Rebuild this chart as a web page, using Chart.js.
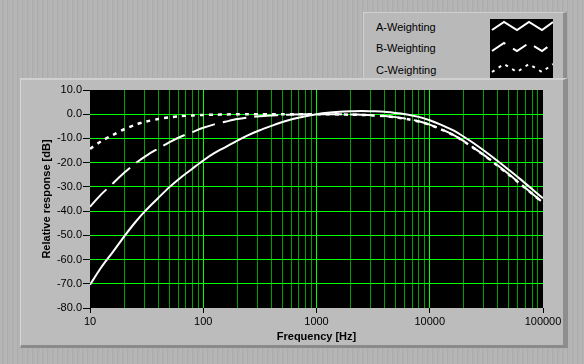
<!DOCTYPE html>
<html>
<head>
<meta charset="utf-8">
<script src="https://cdn.jsdelivr.net/npm/chart.js@4"></script>
<style>
  body { margin: 0; }
  #frame {
    position: relative; width: 584px; height: 364px; overflow: hidden;
    background: repeating-linear-gradient(90deg, #b6b6b6 0 2px, #acacac 2px 3px, #b3b3b3 3px 5px);
    font-family: "Liberation Sans", Arial, sans-serif;
  }
  #panel {
    position: absolute; left: 20px; top: 78px; width: 548px; height: 270px;
    box-sizing: border-box; background: #bcbcbc;
    border-left: 1px solid #d6d6d6; border-top: 2px solid #d0d0d0;
    border-right: 5px solid #8e8e8e; border-bottom: 3px solid #8a8a8a;
  }
  #legend {
    position: absolute; left: 363px; top: 12px; width: 204px; height: 66px;
    box-sizing: border-box; background: #b9b9b9;
    border-left: 1px solid #d0d0d0; border-top: 1px solid #d0d0d0;
    border-right: 4px solid #8e8e8e;
  }
  .lbl { position: absolute; left: 12px; font-size: 11px; color: #000; line-height: 13px; }
  #swatch { position: absolute; left: 126px; top: 6px; }
  #chart { position: absolute; left: 0; top: 0; }
</style>
</head>
<body>
<div id="frame">
  <div id="panel"></div>
  <div id="legend">
    <div class="lbl" style="top:8px">A-Weighting</div>
    <div class="lbl" style="top:29px">B-Weighting</div>
    <div class="lbl" style="top:51px">C-Weighting</div>
    <canvas id="swatch" width="63" height="59"></canvas>
  </div>
  <canvas id="chart" width="584" height="364"></canvas>
</div>
<script>
// frequencies [Hz]
const freqs = [10, 12.5, 16, 20, 25, 31.5, 40, 50, 63, 80, 100, 125, 160, 200, 250, 315, 400, 500, 630, 800,
  1000, 1250, 1600, 2000, 2500, 3150, 4000, 5000, 6300, 8000, 10000, 12500, 16000, 20000,
  25000, 31500, 40000, 50000, 63000, 80000, 100000];

// relative response [dB]
const aWeight = [-70.4, -63.4, -56.7, -50.5, -44.7, -39.4, -34.6, -30.2, -26.2, -22.5, -19.1, -16.1, -13.4, -10.9, -8.6, -6.6, -4.8, -3.2, -1.9, -0.8,
  0, 0.6, 1.0, 1.2, 1.3, 1.2, 1.0, 0.5, -0.1, -1.1, -2.5, -4.3, -6.6, -9.3,
  -12.3, -15.7, -19.4, -23.0, -26.8, -30.9, -34.7];
const bWeight = [-38.2, -33.2, -28.5, -24.2, -20.4, -17.1, -14.2, -11.6, -9.3, -7.4, -5.6, -4.2, -3.0, -2.0, -1.3, -0.8, -0.5, -0.3, -0.1, 0,
  0, 0, 0, -0.1, -0.2, -0.4, -0.7, -1.2, -1.9, -2.9, -4.3, -6.1, -8.4, -11.1,
  -14.2, -17.5, -21.2, -24.8, -28.7, -32.7, -36.5];
const cWeight = [-14.3, -11.2, -8.5, -6.2, -4.4, -3.0, -2.0, -1.3, -0.8, -0.5, -0.3, -0.2, -0.1, 0, 0, 0, 0, 0, 0, 0,
  0, 0, -0.1, -0.2, -0.3, -0.5, -0.8, -1.3, -2.0, -3.0, -4.4, -6.2, -8.5, -11.2,
  -14.3, -17.6, -21.4, -25.0, -28.8, -32.8, -36.6];

const seriesNames = ["A-Weighting", "B-Weighting", "C-Weighting"];
const xTickLabels = [10, 100, 1000, 10000, 100000];
const minorSteps = [2, 3, 4, 5, 6, 7, 8, 9];
const yMin = -80, yMax = 10, yStep = 10;

const isDecade = (v) => xTickLabels.includes(v);
const gridFreqs = [];
xTickLabels.forEach((d, i) => {
  gridFreqs.push(d);
  if (i < xTickLabels.length - 1) minorSteps.forEach((m) => gridFreqs.push(d * m));
});

function points(vals) {
  return freqs.map((f, i) => ({ x: f, y: vals[i] }));
}

const plotBg = {
  id: "plotBg",
  beforeDraw(chart) {
    const a = chart.chartArea;
    const ctx = chart.ctx;
    ctx.save();
    ctx.fillStyle = "#000";
    ctx.fillRect(a.left, a.top, a.right - a.left, a.bottom - a.top);
    ctx.restore();
  },
};

const font = { family: "'Liberation Sans', Arial, sans-serif", size: 11 };
const boldFont = { family: "'Liberation Sans', Arial, sans-serif", size: 11, weight: "bold" };

new Chart(document.getElementById("chart"), {
  type: "line",
  data: {
    datasets: [
      { label: seriesNames[0], data: points(aWeight), borderColor: "#fff", borderWidth: 2 },
      { label: seriesNames[1], data: points(bWeight), borderColor: "#fff", borderWidth: 2, borderDash: [24, 8] },
      { label: seriesNames[2], data: points(cWeight), borderColor: "#fff", borderWidth: 2.5, borderDash: [4, 5] },
    ],
  },
  options: {
    responsive: false,
    animation: false,
    devicePixelRatio: 1,
    layout: { padding: { left: 36, top: 90, right: 41, bottom: 18 } },
    elements: { point: { radius: 0 }, line: { tension: 0.3, fill: false } },
    plugins: { legend: { display: false }, tooltip: { enabled: false } },
    scales: {
      x: {
        type: "logarithmic",
        min: 10,
        max: 100000,
        afterBuildTicks: (scale) => {
          scale.ticks = gridFreqs.map((v) => ({ value: v, major: isDecade(v) }));
        },
        afterFit: (scale) => { scale.height = 364 - 18 - 308; },
        ticks: {
          autoSkip: false, maxRotation: 0, minRotation: 0, padding: 2,
          color: "#000", font: font,
          callback: (v) => (isDecade(v) ? String(v) : ""),
        },
        grid: {
          color: (c) => {
            const v = c.tick.value;
            if (v <= 10 || v >= 100000) return "rgba(0,0,0,0)";
            return isDecade(v) ? "#00ff00" : "#00a000";
          },
          tickColor: (c) => (isDecade(c.tick.value) ? "#000" : "rgba(0,0,0,0)"),
          tickLength: 5,
          lineWidth: 1,
        },
        border: { display: false },
        title: { display: true, text: "Frequency [Hz]", color: "#000", font: boldFont, padding: { top: 4, bottom: 2 } },
      },
      y: {
        min: yMin,
        max: yMax,
        afterFit: (scale) => { scale.width = 90 - 36; },
        ticks: { stepSize: yStep, padding: 1, color: "#000", font: font, callback: (v) => v.toFixed(1) },
        grid: {
          color: (c) => {
            const v = c.tick.value;
            return v <= yMin || v >= yMax ? "rgba(0,0,0,0)" : "#00ff00";
          },
          tickColor: "#000",
          tickLength: 7,
          lineWidth: 1,
        },
        border: { display: false },
        title: { display: true, text: "Relative response [dB]", color: "#000", font: boldFont, padding: { top: 4, bottom: 2 } },
      },
    },
  },
  plugins: [plotBg],
});

// legend sample lines
const sw = document.getElementById("swatch").getContext("2d");
sw.fillStyle = "#000";
sw.fillRect(0, 0, 63, 59);
sw.strokeStyle = "#fff";
sw.lineWidth = 2;
function zig(y0, dash) {
  sw.setLineDash(dash);
  sw.beginPath();
  const xs = [2, 14, 27, 39, 52, 63];
  xs.forEach((x, i) => {
    const y = y0 + (i % 2 === 0 ? 8 : 0);
    if (i === 0) sw.moveTo(x, y); else sw.lineTo(x, y);
  });
  sw.stroke();
}
zig(3, []);
zig(24, [16, 9]);
zig(45, [3, 5]);
</script>
</body>
</html>
